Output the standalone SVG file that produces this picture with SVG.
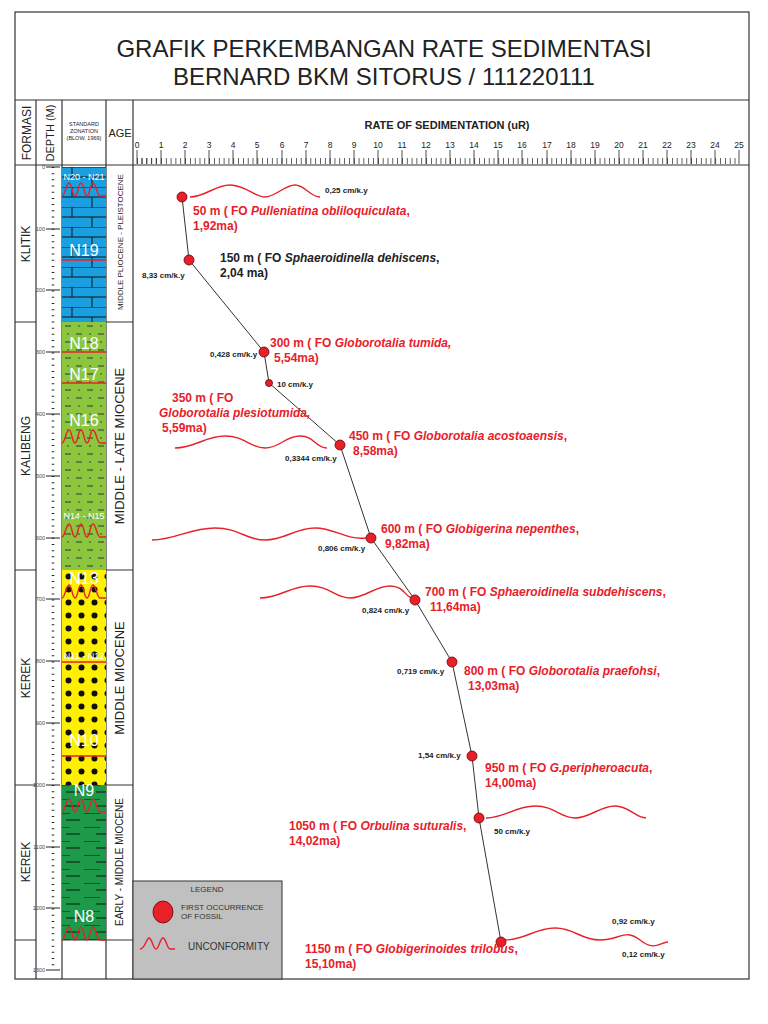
<svg xmlns="http://www.w3.org/2000/svg" width="768" height="1024" viewBox="0 0 768 1024">
<defs>
<style>
.b{fill:none;stroke:#333;stroke-width:1.2}
.t{font-family:"Liberation Sans",Arial,sans-serif}
.red{fill:#e8202a;font-weight:bold;font-size:12px}
.blk{fill:#222;font-weight:bold;font-size:12px}
.sm{fill:#222;font-weight:bold;font-size:8px}
.zl{fill:#fff;font-size:16px}
.zs{fill:#fff;font-size:9px}
.w{fill:none;stroke:#e8202a;stroke-width:1.4}
.rl{stroke:#e8202a;stroke-width:1.6}
.dot{fill:#e8202a;stroke:#600;stroke-width:0.8}
</style>
<pattern id="brick" width="40" height="20" patternUnits="userSpaceOnUse" x="62" y="167">
<rect width="40" height="20" fill="#1aa0e0"/>
<path d="M0 0H40M0 10H40M10 0V10M30 10V20" stroke="#111" stroke-width="1"/>
</pattern>
<pattern id="marl" width="22" height="16" patternUnits="userSpaceOnUse" x="62" y="322">
<rect width="22" height="16" fill="#8cc63f"/>
<path d="M3 4H9M14 12H20" stroke="#333" stroke-width="1"/>
<circle cx="17" cy="4" r="0.8" fill="#333"/><circle cx="6" cy="12" r="0.8" fill="#333"/>
</pattern>
<pattern id="sand" width="13" height="13" patternUnits="userSpaceOnUse" x="62" y="570">
<rect width="13" height="13" fill="#ffef00"/>
<circle cx="6.5" cy="6.5" r="3" fill="#111"/>
</pattern>
<pattern id="shale" width="30" height="14" patternUnits="userSpaceOnUse" x="62" y="785">
<rect width="30" height="14" fill="#1c9a4a"/>
<path d="M4 7H18M22 0H30M0 0H8" stroke="#111" stroke-width="1.2"/>
</pattern>
</defs>
<rect x="0" y="0" width="768" height="1024" fill="#fff"/>
<g id="frame">
<rect x="15" y="12" width="734" height="967" class="b"/>
<line x1="15" y1="100" x2="749" y2="100" class="b"/>
<line x1="15" y1="165" x2="749" y2="165" class="b"/>
<line x1="36" y1="100" x2="36" y2="979" class="b"/>
<line x1="62" y1="100" x2="62" y2="979" class="b"/>
<line x1="106" y1="100" x2="106" y2="979" class="b"/>
<line x1="133" y1="100" x2="133" y2="979" class="b"/>
<path d="M15 322H36M15 570H36M15 785H36M15 940H36M106 322H133M106 570H133M106 785H133M106 940H133" class="b"/>
</g>
<g id="title" class="t">
<text x="384" y="57" text-anchor="middle" font-size="24" fill="#222">GRAFIK PERKEMBANGAN RATE SEDIMENTASI</text>
<text x="384" y="85" text-anchor="middle" font-size="24" fill="#222">BERNARD BKM SITORUS / 111220111</text>
</g>
<g id="headers" class="t" fill="#222">
<text transform="translate(31,133) rotate(-90)" text-anchor="middle" font-size="12">FORMASI</text>
<text transform="translate(54,133) rotate(-90)" text-anchor="middle" font-size="11">DEPTH (M)</text>
<text x="84" y="126" text-anchor="middle" font-size="5.5">STANDARD</text>
<text x="84" y="133" text-anchor="middle" font-size="5.5">ZONATION</text>
<text x="84" y="140" text-anchor="middle" font-size="5.5">(BLOW, 1969)</text>
<text x="120" y="137" text-anchor="middle" font-size="11">AGE</text>
<text x="447" y="129" text-anchor="middle" font-size="11" font-weight="bold">RATE OF SEDIMENTATION (uR)</text>
</g>
<g id="rate-scale" class="t" font-size="8.5" fill="#222">
<text x="137" y="148" text-anchor="middle">0</text><text x="161" y="148" text-anchor="middle">1</text><text x="185" y="148" text-anchor="middle">2</text><text x="209" y="148" text-anchor="middle">3</text><text x="233" y="148" text-anchor="middle">4</text><text x="257" y="148" text-anchor="middle">5</text><text x="282" y="148" text-anchor="middle">6</text><text x="306" y="148" text-anchor="middle">7</text><text x="330" y="148" text-anchor="middle">8</text><text x="354" y="148" text-anchor="middle">9</text><text x="378" y="148" text-anchor="middle">10</text><text x="402" y="148" text-anchor="middle">11</text><text x="426" y="148" text-anchor="middle">12</text><text x="450" y="148" text-anchor="middle">13</text><text x="474" y="148" text-anchor="middle">14</text><text x="498" y="148" text-anchor="middle">15</text><text x="522" y="148" text-anchor="middle">16</text><text x="547" y="148" text-anchor="middle">17</text><text x="571" y="148" text-anchor="middle">18</text><text x="595" y="148" text-anchor="middle">19</text><text x="619" y="148" text-anchor="middle">20</text><text x="643" y="148" text-anchor="middle">21</text><text x="667" y="148" text-anchor="middle">22</text><text x="691" y="148" text-anchor="middle">23</text><text x="715" y="148" text-anchor="middle">24</text><text x="739" y="148" text-anchor="middle">25</text>
<path stroke="#222" stroke-width="0.8" d="M137 150V164M161 150V164M185 150V164M209 150V164M233 150V164M257 150V164M282 150V164M306 150V164M330 150V164M354 150V164M378 150V164M402 150V164M426 150V164M450 150V164M474 150V164M498 150V164M522 150V164M547 150V164M571 150V164M595 150V164M619 150V164M643 150V164M667 150V164M691 150V164M715 150V164M739 150V164"/>
<line x1="137" y1="164" x2="739" y2="164" stroke="#222" stroke-dasharray="0.8 4" stroke-dashoffset="0" transform="translate(0,0)" stroke-width="0"/>
<path stroke="#222" stroke-width="0.7" d="M141.8 158V164M146.6 158V164M151.4 158V164M156.2 158V164"/>
<line x1="137" y1="161" x2="739" y2="161" stroke="#222" stroke-width="6" stroke-dasharray="0.7 4.12" stroke-dashoffset="-4.8"/>
</g>
<g id="depth-scale" class="t">
<line x1="53" y1="167" x2="53" y2="970" stroke="#222" stroke-width="2.5" stroke-dasharray="1 5.18"/>
<g stroke="#222" stroke-width="1.2"><path d="M46 167H60M46 229H60M46 290H60M46 352H60M46 414H60M46 476H60M46 538H60M46 599H60M46 661H60M46 723H60M46 785H60M46 847H60M46 908H60M46 970H60"/></g>
<g font-size="5.5" fill="#444" text-anchor="end"><text x="45" y="169">0</text><text x="45" y="231">100</text><text x="45" y="292">200</text><text x="45" y="354">300</text><text x="45" y="416">400</text><text x="45" y="478">500</text><text x="45" y="540">600</text><text x="45" y="601">700</text><text x="45" y="663">800</text><text x="45" y="725">900</text><text x="45" y="787">1000</text><text x="45" y="849">1100</text><text x="45" y="910">1200</text><text x="45" y="972">1300</text></g>
</g>
<g id="lithology">
<rect x="62" y="167" width="44" height="155" fill="url(#brick)"/>
<rect x="62" y="322" width="44" height="248" fill="url(#marl)"/>
<rect x="62" y="570" width="44" height="215" fill="url(#sand)"/>
<rect x="62" y="785" width="44" height="155" fill="url(#shale)"/>
<path d="M62 940H106" class="b"/>
</g>
<g id="zones" class="t">
<text x="84" y="180" text-anchor="middle" class="zs">N20 - N21</text>
<text x="84" y="256" text-anchor="middle" class="zl">N19</text>
<text x="84" y="349" text-anchor="middle" class="zl">N18</text>
<text x="84" y="380" text-anchor="middle" class="zl">N17</text>
<text x="84" y="426" text-anchor="middle" class="zl">N16</text>
<text x="84" y="519" text-anchor="middle" class="zs">N14 - N15</text>
<text x="84" y="584" text-anchor="middle" class="zl">N13</text>
<text x="84" y="659" text-anchor="middle" class="zs">N11 - N12</text>
<text x="84" y="746" text-anchor="middle" class="zl">N10</text>
<text x="84" y="796" text-anchor="middle" class="zl">N9</text>
<text x="84" y="922" text-anchor="middle" class="zl">N8</text>
<path class="rl" d="M62 260H106M62 352H106M62 383H106M62 662H106M62 756H106"/>
<g class="w">
<path d="M62 196C65 196 66 183 69 183C72 183 72 196 75 196C78 196 78 183 81 183C84 183 84 196 87 196C90 196 90 183 93 183C96 183 97 196 100 196H106"/>
<path d="M62 443C65 443 66 430 69 430C72 430 72 443 75 443C78 443 78 430 81 430C84 430 84 443 87 443C90 443 90 430 93 430C96 430 97 443 100 443H106"/>
<path d="M62 537C65 537 66 524 69 524C72 524 72 537 75 537C78 537 78 524 81 524C84 524 84 537 87 537C90 537 90 524 93 524C96 524 97 537 100 537H106"/>
<path d="M62 598C65 598 66 585 69 585C72 585 72 598 75 598C78 598 78 585 81 585C84 585 84 598 87 598C90 598 90 585 93 585C96 585 97 598 100 598H106"/>
<path d="M62 812C65 812 66 799 69 799C72 799 72 812 75 812C78 812 78 799 81 799C84 799 84 812 87 812C90 812 90 799 93 799C96 799 97 812 100 812H106"/>
<path d="M62 940C65 940 66 927 69 927C72 927 72 940 75 940C78 940 78 927 81 927C84 927 84 940 87 940C90 940 90 927 93 927C96 927 97 940 100 940H106"/>
</g>
</g>
<g id="formations" class="t" font-size="12" fill="#222" text-anchor="middle">
<text transform="translate(30,244) rotate(-90)">KLITIK</text>
<text transform="translate(30,446) rotate(-90)">KALIBENG</text>
<text transform="translate(30,678) rotate(-90)">KEREK</text>
<text transform="translate(30,862) rotate(-90)">KEREK</text>
</g>
<g id="ages" class="t" fill="#222" text-anchor="middle">
<text transform="translate(123,242) rotate(-90)" font-size="8">MIDDLE PLIOCENE - PLEISTOCENE</text>
<text transform="translate(124,446) rotate(-90)" font-size="13">MIDDLE - LATE MIOCENE</text>
<text transform="translate(124,678) rotate(-90)" font-size="13">MIDDLE MIOCENE</text>
<text transform="translate(123,862) rotate(-90)" font-size="10">EARLY - MIDDLE MIOCENE</text>
</g>
<g id="connectors">
<polyline points="182,197 189,260 264,352 269,383 340,445 371,538 415,600 452,662 472,756 479,818 501,942" fill="none" stroke="#333" stroke-width="1"/>
<g class="w">
<path d="M190 197C205 197 215 185 230 185S255 197 265 197S285 185 295 185S310 197 320 197"/>
<path d="M175 448C195 448 205 436 225 436S250 448 265 448S285 436 300 436S315 448 327 448"/>
<path d="M152 540C175 540 190 528 215 528S245 540 265 540S295 528 315 528S345 540 366 538"/>
<path d="M260 598C280 598 290 586 310 586S335 598 350 598S375 586 390 586S405 598 413 598"/>
<path d="M486 818C505 818 515 806 535 806S560 818 575 818S600 806 615 806S635 818 646 818"/>
<path d="M505 940C525 940 535 928 555 928S580 940 600 940S625 928 640 940S660 942 668 942"/>
</g>
</g>
<g id="points">
<circle class="dot" cx="182" cy="197" r="5"/><circle class="dot" cx="189" cy="260" r="5"/><circle class="dot" cx="264" cy="352" r="5"/><circle class="dot" cx="269" cy="383" r="3.5"/><circle class="dot" cx="340" cy="445" r="5"/><circle class="dot" cx="371" cy="538" r="5"/><circle class="dot" cx="415" cy="600" r="5"/><circle class="dot" cx="452" cy="662" r="5"/><circle class="dot" cx="472" cy="756" r="5"/><circle class="dot" cx="479" cy="818" r="5"/><circle class="dot" cx="501" cy="942" r="5"/>
</g>
<g id="labels" class="t">
<text x="325" y="193" class="sm">0,25 cm/k.y</text>
<text x="193" y="215" class="red">50 m ( FO <tspan font-style="italic">Pulleniatina obliloquiculata</tspan>,</text>
<text x="193" y="230" class="red">1,92ma)</text>
<text x="220" y="262" class="blk">150 m ( FO <tspan font-style="italic">Sphaeroidinella dehiscens</tspan>,</text>
<text x="220" y="277" class="blk">2,04 ma)</text>
<text x="142" y="278" class="sm">8,33 cm/k.y</text>
<text x="270" y="347" class="red">300 m ( FO <tspan font-style="italic">Globorotalia tumida,</tspan></text>
<text x="274" y="362" class="red">5,54ma)</text>
<text x="210" y="357" class="sm">0,428 cm/k.y</text>
<text x="277" y="387" class="sm">10 cm/k.y</text>
<text x="172" y="402" class="red">350 m ( FO</text>
<text x="159" y="417" class="red" font-style="italic">Globorotalia plesiotumida,</text>
<text x="162" y="432" class="red">5,59ma)</text>
<text x="349" y="440" class="red">450 m ( FO <tspan font-style="italic">Globorotalia acostoaensis</tspan>,</text>
<text x="353" y="455" class="red">8,58ma)</text>
<text x="285" y="461" class="sm">0,3344 cm/k.y</text>
<text x="381" y="533" class="red">600 m ( FO <tspan font-style="italic">Globigerina nepenthes</tspan>,</text>
<text x="385" y="548" class="red">9,82ma)</text>
<text x="318" y="551" class="sm">0,806 cm/k.y</text>
<text x="425" y="596" class="red">700 m ( FO <tspan font-style="italic">Sphaeroidinella subdehiscens</tspan>,</text>
<text x="430" y="611" class="red">11,64ma)</text>
<text x="362" y="613" class="sm">0,824 cm/k.y</text>
<text x="464" y="675" class="red">800 m ( FO <tspan font-style="italic">Globorotalia praefohsi</tspan>,</text>
<text x="468" y="690" class="red">13,03ma)</text>
<text x="397" y="674" class="sm">0,719 cm/k.y</text>
<text x="485" y="772" class="red">950 m ( FO <tspan font-style="italic">G.peripheroacuta</tspan>,</text>
<text x="485" y="787" class="red">14,00ma)</text>
<text x="418" y="758" class="sm">1,54 cm/k.y</text>
<text x="289" y="830" class="red">1050 m ( FO <tspan font-style="italic">Orbulina suturalis</tspan>,</text>
<text x="289" y="845" class="red">14,02ma)</text>
<text x="494" y="834" class="sm">50 cm/k.y</text>
<text x="305" y="953" class="red">1150 m ( FO <tspan font-style="italic">Globigerinoides trilobus</tspan>,</text>
<text x="305" y="968" class="red">15,10ma)</text>
<text x="612" y="924" class="sm">0,92 cm/k.y</text>
<text x="622" y="957" class="sm">0,12 cm/k.y</text>
</g>
<g id="legend" class="t">
<rect x="133" y="881" width="149" height="98" fill="#c0c0c0" stroke="#333" stroke-width="1"/>
<text x="207" y="892" text-anchor="middle" font-size="8" fill="#333">LEGEND</text>
<ellipse cx="163" cy="912" rx="10" ry="11" class="dot"/>
<text x="181" y="910" font-size="8" fill="#333">FIRST OCCURRENCE</text>
<text x="181" y="919" font-size="8" fill="#333">OF FOSSIL</text>
<path class="w" d="M140 949C145 949 146 939 149 938C152 938 153 949 156 949C159 949 160 938 163 938C166 938 167 949 170 949H175"/>
<text x="188" y="950" font-size="10" fill="#333">UNCONFORMITY</text>
</g>
</svg>
